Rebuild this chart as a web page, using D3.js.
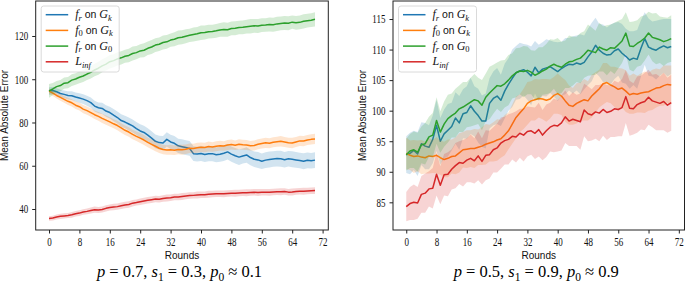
<!DOCTYPE html>
<html>
<head>
<meta charset="utf-8">
<script src="https://cdn.jsdelivr.net/npm/d3@7"></script>
<style>
  body { margin: 0; background: #fff; }
  svg { display: block; }
  .tick text { font-family: 'Liberation Serif', serif; font-size: 12px; fill: #111; }
  .tick line { stroke: #222; }
  text { white-space: pre; }
</style>
</head>
<body>
<svg id="chart" width="685" height="282"></svg>
<script>
// rounds 0..70, one value per round
const rounds = d3.range(0, 71);
const xTicks = [0, 8, 16, 24, 32, 40, 48, 56, 64, 72];
const leftYTicks = [40, 60, 80, 100, 120];
const rightYTicks = [85, 90, 95, 100, 105, 110, 115];
const colors = ['#1f77b4', '#ff7f0e', '#2ca02c', '#d62728'];

// left panel: p = 0.7, s1 = 0.3
const leftFrGk = [
  94.5, 94.8, 94.2, 93.4, 93.0, 92.5, 92.4, 91.8, 91.3, 90.8,
  90.1, 89.2, 87.6, 86.8, 86.5, 85.3, 84.6, 83.4, 82.3, 80.9,
  80.2, 79.3, 78.4, 77.2, 76.1, 75.4, 74.2, 72.8, 71.3, 70.7,
  70.5, 72.2, 71.0, 70.4, 69.2, 68.8, 68.4, 68.0, 65.6, 65.4,
  65.7, 65.2, 65.5, 65.6, 65.1, 65.3, 65.8, 66.4, 65.4, 64.6,
  64.0, 64.5, 65.0, 63.8, 63.0, 62.7, 62.1, 62.6, 62.9, 63.1,
  63.3, 63.2, 62.8, 63.2, 63.0, 62.7, 62.4, 62.1, 62.5, 62.3,
  62.6];
const leftFrGkCi = [
  1.8, 1.6, 1.6, 1.7, 1.8, 1.9, 2.0, 2.1, 2.2, 2.3,
  2.3, 2.4, 2.5, 2.5, 2.6, 2.7, 2.7, 2.8, 2.8, 2.9,
  2.9, 3.0, 3.0, 3.0, 3.1, 3.1, 3.1, 3.2, 3.2, 3.2,
  3.2, 3.3, 3.3, 3.3, 3.3, 3.4, 3.4, 3.4, 3.4, 3.4,
  3.5, 3.5, 3.4, 3.5, 3.5, 3.5, 3.6, 3.5, 3.5, 3.6,
  3.6, 3.5, 3.6, 3.6, 3.6, 3.7, 3.6, 3.6, 3.7, 3.6,
  3.6, 3.7, 3.6, 3.6, 3.7, 3.6, 3.6, 3.7, 3.6, 3.6,
  3.6];
const leftF0Gk = [
  94.5, 93.6, 92.5, 91.6, 90.7, 89.8, 89.1, 88.0, 87.3, 86.2,
  85.5, 84.6, 83.6, 82.8, 81.9, 81.1, 80.3, 79.4, 78.6, 77.5,
  76.4, 75.6, 74.5, 73.6, 72.8, 71.9, 70.8, 69.9, 69.0, 68.1,
  67.5, 67.3, 67.4, 67.2, 67.5, 67.4, 67.6, 68.1, 68.0, 68.3,
  68.6, 68.4, 68.9, 68.7, 69.0, 69.3, 69.1, 69.6, 69.8, 69.5,
  69.9, 69.7, 69.6, 69.3, 69.4, 69.9, 70.3, 70.6, 70.4, 70.9,
  71.1, 71.3, 71.0, 70.6, 70.5, 71.0, 71.5, 71.4, 71.9, 72.2,
  72.4];
const leftF0GkCi = [
  1.2, 1.3, 1.4, 1.5, 1.6, 1.7, 1.7, 1.8, 1.8, 1.9,
  1.9, 2.0, 2.0, 2.0, 2.1, 2.1, 2.1, 2.1, 2.2, 2.2,
  2.2, 2.2, 2.2, 2.2, 2.3, 2.3, 2.2, 2.3, 2.3, 2.2,
  2.2, 2.2, 2.3, 2.2, 2.2, 2.3, 2.2, 2.2, 2.2, 2.3,
  2.2, 2.2, 2.3, 2.2, 2.3, 2.3, 2.2, 2.3, 2.3, 2.2,
  2.3, 2.3, 2.3, 2.2, 2.3, 2.3, 2.3, 2.4, 2.3, 2.3,
  2.3, 2.4, 2.3, 2.3, 2.4, 2.3, 2.4, 2.4, 2.3, 2.4,
  2.4];
const leftFrG0 = [
  94.6, 95.5, 96.6, 97.1, 98.2, 98.4, 99.6, 100.1, 100.9, 101.5,
  102.4, 103.2, 104.3, 105.1, 106.2, 107.0, 108.1, 108.6, 109.4, 109.9,
  110.6, 111.0, 111.9, 112.3, 113.1, 113.4, 114.3, 114.9, 115.8, 116.2,
  117.0, 117.3, 118.1, 118.5, 119.2, 119.4, 119.9, 120.3, 120.7, 121.0,
  121.5, 121.6, 122.0, 122.1, 122.4, 122.8, 123.0, 122.9, 123.5, 123.6,
  123.9, 124.0, 124.3, 124.5, 124.7, 124.6, 125.0, 125.1, 125.3, 125.2,
  125.6, 125.8, 126.0, 125.9, 126.4, 126.1, 126.3, 126.8, 127.1, 127.3,
  127.7];
const leftFrG0Ci = [
  3.2, 2.8, 2.6, 2.6, 2.6, 2.6, 2.7, 2.7, 2.8, 2.8,
  2.8, 2.9, 2.9, 3.0, 3.0, 3.0, 3.1, 3.0, 3.1, 3.1,
  3.0, 3.1, 3.2, 3.1, 3.1, 3.2, 3.1, 3.2, 3.2, 3.1,
  3.2, 3.2, 3.1, 3.2, 3.3, 3.2, 3.2, 3.1, 3.2, 3.2,
  3.3, 3.2, 3.2, 3.1, 3.2, 3.2, 3.3, 3.2, 3.2, 3.2,
  3.1, 3.2, 3.2, 3.3, 3.2, 3.2, 3.2, 3.1, 3.2, 3.2,
  3.3, 3.2, 3.2, 3.2, 3.1, 3.2, 3.2, 3.3, 3.2, 3.2,
  3.3];
const leftLinf = [
  35.6, 35.8, 36.3, 36.6, 36.8, 37.0, 37.3, 37.8, 38.1, 38.6,
  38.9, 39.3, 39.7, 39.5, 39.8, 40.3, 40.7, 40.9, 41.1, 41.5,
  41.8, 42.1, 42.7, 43.0, 43.4, 43.7, 44.0, 44.3, 44.6, 44.5,
  44.9, 45.1, 45.2, 45.5, 45.6, 45.8, 46.0, 46.2, 46.3, 46.5,
  46.6, 46.6, 46.8, 46.9, 47.0, 47.1, 47.0, 47.2, 47.3, 47.3,
  47.4, 47.5, 47.5, 47.6, 47.7, 47.6, 47.7, 47.8, 47.7, 47.9,
  48.0, 48.0, 48.1, 47.8, 47.9, 48.1, 48.2, 48.2, 48.3, 48.4,
  48.5];
const leftLinfCi = [
  1.0, 1.1, 1.1, 1.2, 1.2, 1.2, 1.3, 1.3, 1.3, 1.3,
  1.3, 1.4, 1.4, 1.4, 1.4, 1.4, 1.4, 1.5, 1.4, 1.5,
  1.5, 1.5, 1.5, 1.4, 1.5, 1.5, 1.5, 1.5, 1.5, 1.5,
  1.5, 1.6, 1.5, 1.5, 1.5, 1.6, 1.5, 1.5, 1.5, 1.6,
  1.5, 1.5, 1.6, 1.5, 1.5, 1.5, 1.6, 1.5, 1.5, 1.6,
  1.5, 1.5, 1.6, 1.5, 1.5, 1.6, 1.5, 1.5, 1.6, 1.5,
  1.5, 1.6, 1.5, 1.5, 1.6, 1.5, 1.5, 1.6, 1.5, 1.5,
  1.6];

// right panel: p = 0.5, s1 = 0.9
const rightFrGk = [
  92.8, 93.0, 93.5, 92.9, 94.6, 94.2, 94.0, 95.3, 97.6, 95.0,
  96.2, 96.8, 97.4, 98.8, 98.0, 99.5, 99.7, 100.8, 99.9, 99.2,
  98.3, 98.3, 101.2, 102.0, 102.4, 101.7, 103.2, 104.3, 105.3, 106.2,
  106.5, 106.7, 106.3, 105.7, 107.1, 106.2, 106.8, 107.0, 107.2, 106.8,
  106.4, 106.9, 107.3, 107.6, 107.5, 107.8, 107.6, 107.9, 108.8, 109.6,
  110.7, 109.9, 109.4, 109.1, 109.2, 109.8, 110.1, 109.4, 108.9, 108.3,
  108.6, 108.4, 110.2, 111.8, 110.4, 110.1, 109.9, 110.3, 110.6, 110.3,
  110.5];
const rightFrGkCi = [
  3.0, 3.4, 3.2, 3.6, 3.5, 3.8, 3.6, 3.9, 4.2, 3.8,
  4.0, 4.3, 3.9, 4.2, 4.4, 4.0, 4.3, 4.6, 4.1, 4.4,
  4.2, 4.5, 4.1, 4.4, 4.6, 4.2, 4.5, 4.3, 4.7, 4.4,
  4.6, 4.2, 4.5, 4.8, 4.3, 4.6, 4.4, 4.7, 4.3, 4.5,
  4.8, 4.4, 4.6, 4.3, 4.7, 4.5, 4.9, 4.4, 4.6, 4.8,
  4.5, 4.3, 4.7, 4.5, 4.9, 4.6, 4.4, 4.8, 4.5, 4.7,
  4.4, 4.8, 4.6, 4.3, 4.7, 4.5, 4.8, 4.6, 4.4, 4.7,
  4.5];
const rightF0Gk = [
  93.0, 92.7, 92.5, 92.6, 92.4, 92.3, 92.6, 92.5, 92.7, 92.3,
  92.0, 92.2, 92.5, 92.6, 93.1, 93.6, 93.7, 93.8, 93.8, 94.0,
  94.2, 94.5, 94.7, 94.9, 95.2, 95.4, 96.0, 96.7, 97.8, 98.9,
  99.6, 100.3, 101.2, 101.6, 101.8, 102.0, 101.9, 101.7, 101.9, 102.5,
  102.8, 102.4, 101.6, 100.9, 100.7, 101.2, 101.5, 101.8, 101.6, 102.4,
  103.0, 103.6, 104.4, 104.6, 104.2, 103.9, 103.5, 103.7, 103.2, 102.6,
  102.8, 102.7, 102.9, 103.0, 103.1, 103.4, 103.7, 103.8, 104.1, 104.3,
  104.2];
const rightF0GkCi = [
  2.6, 2.4, 2.7, 2.5, 2.8, 2.6, 2.9, 2.7, 3.0, 2.8,
  2.9, 3.1, 2.8, 3.0, 3.2, 2.9, 3.1, 3.0, 3.2, 2.9,
  3.1, 3.3, 3.0, 3.2, 3.4, 3.1, 3.3, 3.0, 3.2, 3.4,
  3.1, 3.3, 3.5, 3.2, 3.4, 3.1, 3.3, 3.5, 3.2, 3.0,
  3.3, 3.1, 3.4, 3.2, 3.0, 3.3, 3.1, 3.4, 3.2, 3.5,
  3.3, 3.1, 3.4, 3.2, 3.0, 3.3, 3.5, 3.2, 3.4, 3.1,
  3.3, 3.0, 3.2, 3.4, 3.1, 3.3, 3.2, 3.0, 3.3, 3.1,
  3.2];
const rightFrG0 = [
  92.8, 93.4, 93.6, 93.2, 94.4, 94.6, 95.7, 96.0, 98.4, 96.5,
  97.8, 98.7, 99.2, 99.6, 100.3, 100.6, 101.0, 101.4, 101.8, 101.6,
  100.9, 102.2, 102.9, 103.5, 104.1, 104.0, 104.4, 105.0, 105.7, 106.2,
  106.5, 106.4, 106.6, 106.3, 105.8, 106.1, 106.5, 106.8, 107.3, 107.6,
  107.3, 107.1, 107.6, 108.0, 108.1, 108.4, 108.6, 109.2, 109.9, 109.7,
  109.5, 110.4, 110.1, 109.9, 110.3, 110.2, 110.8, 111.4, 112.7, 110.6,
  110.5, 111.0, 111.4, 111.9, 112.7, 112.0, 111.8, 111.6, 111.3, 111.5,
  111.8];
const rightFrG0Ci = [
  2.6, 2.8, 3.0, 3.2, 3.0, 3.4, 3.3, 3.6, 3.8, 3.4,
  3.7, 3.9, 3.6, 4.0, 3.8, 4.1, 3.7, 4.0, 4.2, 3.8,
  4.1, 3.9, 4.3, 4.0, 3.8, 4.2, 3.9, 4.1, 3.7, 4.0,
  3.8, 4.2, 3.9, 3.6, 4.0, 4.3, 3.9, 4.1, 4.4, 4.0,
  4.6, 4.2, 3.9, 4.3, 4.0, 3.7, 4.1, 3.8, 4.2, 3.9,
  3.6, 4.0, 3.7, 4.1, 3.8, 4.2, 3.9, 3.6, 3.4, 3.9,
  4.1, 3.8, 4.0, 3.7, 3.5, 3.9, 4.2, 3.8, 4.0, 3.7,
  3.8];
const rightLinf = [
  84.3, 84.8, 85.0, 84.9, 86.3, 86.5, 87.2, 87.3, 89.6, 87.8,
  89.5, 89.6, 90.4, 91.0, 91.5, 91.4, 91.9, 92.2, 91.8, 92.6,
  91.7, 92.7, 92.8, 93.6, 93.9, 94.7, 95.1, 95.3, 95.8, 95.7,
  96.3, 96.0, 96.6, 96.7, 96.3, 96.9, 96.0, 96.7, 97.3, 97.6,
  97.5, 98.0, 99.0, 98.3, 98.6, 98.4, 98.2, 100.1, 99.5, 99.3,
  99.8, 99.6, 100.2, 99.7, 99.9, 100.3, 100.2, 100.5, 102.3, 100.4,
  100.3, 101.0, 101.3, 101.5, 102.2, 101.6, 101.4, 101.2, 101.5, 100.9,
  101.3];
const rightLinfCi = [
  2.4, 2.7, 2.9, 2.6, 3.0, 3.2, 2.9, 3.3, 3.5, 3.1,
  3.4, 3.6, 3.3, 3.7, 3.5, 3.8, 3.6, 3.9, 3.7, 4.0,
  3.8, 4.1, 3.9, 3.7, 4.0, 4.2, 3.9, 4.1, 3.8, 4.2,
  4.0, 4.3, 4.1, 3.9, 4.2, 4.4, 4.1, 4.3, 4.0, 4.4,
  4.2, 4.5, 4.3, 4.1, 4.4, 4.2, 4.6, 4.3, 4.5, 4.2,
  4.4, 4.6, 4.3, 4.5, 4.2, 4.6, 4.4, 4.7, 4.3, 4.5,
  4.2, 4.6, 4.4, 4.7, 4.5, 4.3, 4.6, 4.4, 4.7, 4.5,
  4.6];

// legend labels: f_r on G_k, f_0 on G_k, f_r on G_0, L_inf
const legendLabels = [
  [{ t: 'f', it: true }, { t: 'r', sub: true, it: true }, { t: ' on ', sans: true }, { t: 'G', it: true }, { t: 'k', sub: true, it: true }],
  [{ t: 'f', it: true }, { t: '0', sub: true }, { t: ' on ', sans: true }, { t: 'G', it: true }, { t: 'k', sub: true, it: true }],
  [{ t: 'f', it: true }, { t: 'r', sub: true, it: true }, { t: ' on ', sans: true }, { t: 'G', it: true }, { t: '0', sub: true }],
  [{ t: 'L', it: true }, { t: 'inf', sub: true, it: true }],
];

const serif = "'Liberation Serif', 'DejaVu Serif', serif";
const sans = "'Liberation Sans', 'DejaVu Sans', sans-serif";

const svg = d3.select('#chart');

// Write mixed italic / subscript text into a <text> element
function richText(sel, parts, subShift, subSize) {
  let shift = 0;
  parts.forEach((p) => {
    const ts = sel.append('tspan').text(p.t);
    const target = p.sub ? subShift : 0;
    if (target !== shift) {
      ts.attr('dy', target - shift);
      shift = target;
    }
    if (p.it) ts.attr('font-style', 'italic');
    if (p.sans) ts.attr('font-family', sans).attr('font-size', '10.5px');
    if (p.sub) ts.attr('font-size', subSize);
  });
}

function drawPanel(p) {
  const x = d3.scaleLinear().domain([-3.5, 73.5]).range([p.left, p.right]);
  const y = d3.scaleLinear().domain(p.yDomain).range([p.bottom, p.top]);
  const g = svg.append('g');

  // lines and confidence bands
  p.means.forEach((m, k) => {
    const rows = m.map((v, i) => ({ r: rounds[i], v, ci: p.cis[k][i] }));
    g.append('path')
      .datum(rows)
      .attr('d', d3.line().x((d) => x(d.r)).y((d) => y(d.v)))
      .attr('fill', 'none')
      .attr('stroke', colors[k])
      .attr('stroke-width', 1.5)
      .attr('stroke-linejoin', 'round');
    g.append('path')
      .datum(rows)
      .attr('d', d3.area().x((d) => x(d.r)).y0((d) => y(d.v - d.ci)).y1((d) => y(d.v + d.ci)))
      .attr('fill', colors[k])
      .attr('fill-opacity', 0.2);
  });

  // axes (tick digits are narrow in the original, so squeeze them)
  const xAxis = g.append('g')
    .attr('transform', `translate(0,${p.bottom})`)
    .call(d3.axisBottom(x).tickValues(xTicks).tickSize(3.5).tickPadding(3.5));
  const yAxis = g.append('g')
    .attr('transform', `translate(${p.left},0)`)
    .call(d3.axisLeft(y).tickValues(p.yTicks).tickSize(3.5).tickPadding(6.5));
  xAxis.select('.domain').remove();
  yAxis.select('.domain').remove();
  xAxis.selectAll('.tick text').attr('transform', 'scale(0.75,1)');
  yAxis.selectAll('.tick text').attr('transform', 'scale(0.75,1)');

  // frame
  g.append('rect')
    .attr('x', p.left)
    .attr('y', p.top)
    .attr('width', p.right - p.left)
    .attr('height', p.bottom - p.top)
    .attr('fill', 'none')
    .attr('stroke', '#222')
    .attr('stroke-width', 1);

  const cx = (p.left + p.right) / 2;

  g.append('text')
    .attr('x', cx)
    .attr('y', 259)
    .attr('text-anchor', 'middle')
    .attr('font-family', sans)
    .attr('font-size', '10px')
    .attr('fill', '#111')
    .text('Rounds');

  g.append('text')
    .attr('transform', `translate(${p.left - 27.5},${(p.top + p.bottom) / 2}) rotate(-90)`)
    .attr('text-anchor', 'middle')
    .attr('font-family', sans)
    .attr('font-size', '10px')
    .attr('fill', '#111')
    .text('Mean Absolute Error');

  // legend
  const lg = g.append('g').attr('transform', `translate(${p.left + 5.5},6)`);
  lg.append('rect')
    .attr('width', 78)
    .attr('height', 66)
    .attr('rx', 2.5)
    .attr('fill', '#fff')
    .attr('fill-opacity', 0.8)
    .attr('stroke', '#d0d0d0')
    .attr('stroke-width', 0.8);
  legendLabels.forEach((parts, k) => {
    const ly = 8.7 + k * 15.7;
    lg.append('line')
      .attr('x1', 4.5)
      .attr('x2', 27)
      .attr('y1', ly)
      .attr('y2', ly)
      .attr('stroke', colors[k])
      .attr('stroke-width', 1.5);
    const t = lg.append('text')
      .attr('x', 34)
      .attr('y', ly + 3.5)
      .attr('font-family', serif)
      .attr('font-size', '12px')
      .attr('fill', '#111');
    richText(t, parts, 2.5, '8.5px');
  });

  // caption
  const cap = svg.append('text')
    .attr('x', cx - 2.5)
    .attr('y', 277)
    .attr('text-anchor', 'middle')
    .attr('font-family', serif)
    .attr('font-size', '16.5px')
    .attr('fill', '#000');
  richText(cap, [
    { t: 'p', it: true }, { t: ' = ' + p.caption[0] + ', ' },
    { t: 's', it: true }, { t: '1', sub: true }, { t: ' = ' + p.caption[1] + ', ' },
    { t: 'p', it: true }, { t: '0', sub: true }, { t: ' \u2248 ' + p.caption[2] },
  ], 3.5, '11.5px');
}

drawPanel({
  left: 35.7,
  right: 328.3,
  top: 1,
  bottom: 230,
  yDomain: [30.29, 136.18],
  yTicks: leftYTicks,
  means: [leftFrGk, leftF0Gk, leftFrG0, leftLinf],
  cis: [leftFrGkCi, leftF0GkCi, leftFrG0Ci, leftLinfCi],
  caption: ['0.7', '0.3', '0.1'],
});

drawPanel({
  left: 393,
  right: 684.5,
  top: 1,
  bottom: 230,
  yDomain: [80.47, 117.95],
  yTicks: rightYTicks,
  means: [rightFrGk, rightF0Gk, rightFrG0, rightLinf],
  cis: [rightFrGkCi, rightF0GkCi, rightFrG0Ci, rightLinfCi],
  caption: ['0.5', '0.9', '0.9'],
});
</script>
</body>
</html>
